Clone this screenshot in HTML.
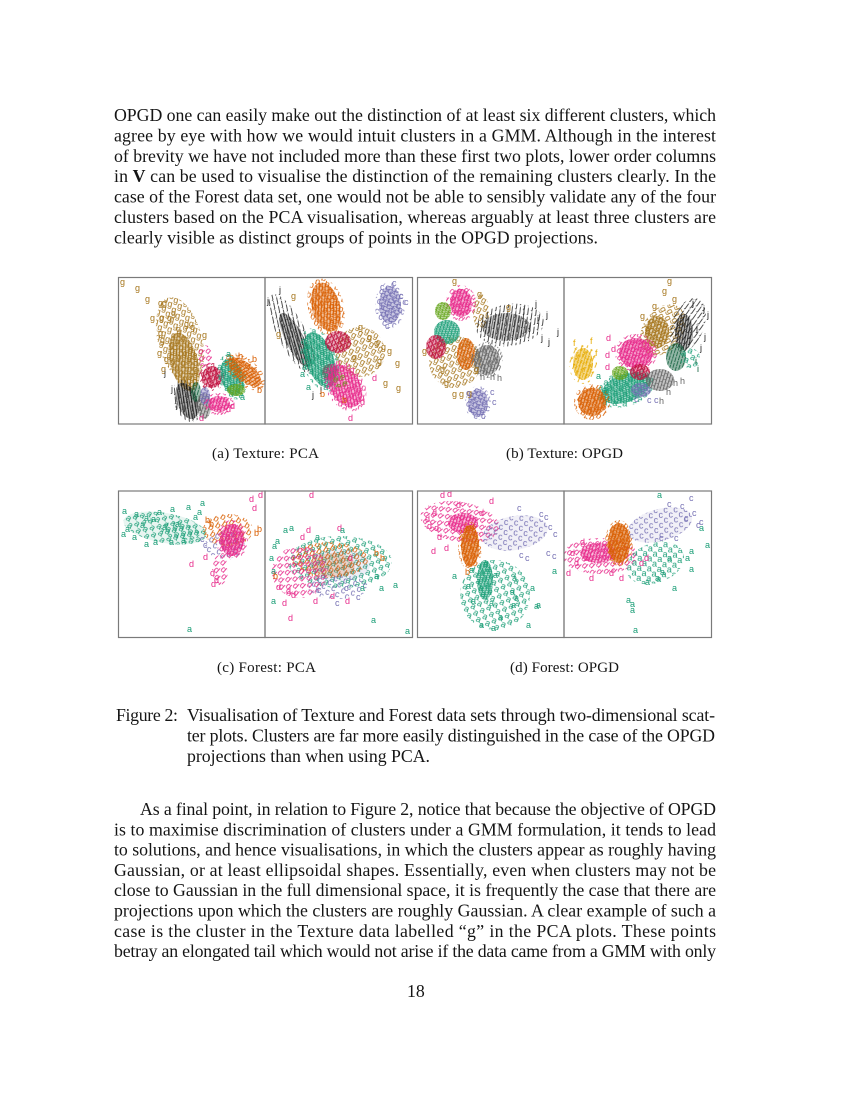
<!DOCTYPE html>
<html>
<head>
<meta charset="utf-8">
<style>
html,body{margin:0;padding:0;background:#fff;}
svg{display:block;}
.tx{font-family:"Liberation Serif",serif;font-size:17.8px;fill:#151515;}
.sub{font-family:"Liberation Serif",serif;font-size:15px;fill:#151515;}
.sc text,pattern text{font-family:"Liberation Sans",sans-serif;font-size:9px;}
</style>
</head>
<body>
<svg width="850" height="1100" viewBox="0 0 850 1100" xmlns="http://www.w3.org/2000/svg">
<defs>
<!-- dense patterns -->
<pattern id="Da" width="6" height="6" patternUnits="userSpaceOnUse" patternTransform="rotate(17)"><g fill="#1B9E77"><text x="0" y="5">a</text><text x="3" y="8">a</text><text x="3" y="2">a</text><text x="-3" y="8">a</text><text x="-3" y="2">a</text></g></pattern>
<pattern id="Db" width="6" height="6" patternUnits="userSpaceOnUse" patternTransform="rotate(17)"><g fill="#D95F02"><text x="0" y="5">b</text><text x="3" y="8">b</text><text x="3" y="2">b</text><text x="-3" y="8">b</text><text x="-3" y="2">b</text></g></pattern>
<pattern id="Dc" width="6" height="6" patternUnits="userSpaceOnUse" patternTransform="rotate(17)"><g fill="#7570B3"><text x="0" y="5">c</text><text x="3" y="8">c</text><text x="3" y="2">c</text><text x="-3" y="8">c</text><text x="-3" y="2">c</text></g></pattern>
<pattern id="Dd" width="6" height="6" patternUnits="userSpaceOnUse" patternTransform="rotate(17)"><g fill="#E7298A"><text x="0" y="5">d</text><text x="3" y="8">d</text><text x="3" y="2">d</text><text x="-3" y="8">d</text><text x="-3" y="2">d</text></g></pattern>
<pattern id="De" width="6" height="6" patternUnits="userSpaceOnUse" patternTransform="rotate(17)"><g fill="#66A61E"><text x="0" y="5">e</text><text x="3" y="8">e</text><text x="3" y="2">e</text><text x="-3" y="8">e</text><text x="-3" y="2">e</text></g></pattern>
<pattern id="Df" width="6" height="6" patternUnits="userSpaceOnUse" patternTransform="rotate(17)"><g fill="#E6AB02"><text x="0" y="5">f</text><text x="3" y="8">f</text><text x="3" y="2">f</text><text x="-3" y="8">f</text><text x="-3" y="2">f</text></g></pattern>
<pattern id="Dg" width="6" height="6" patternUnits="userSpaceOnUse" patternTransform="rotate(17)"><g fill="#A6761D"><text x="0" y="5">g</text><text x="3" y="8">g</text><text x="3" y="2">g</text><text x="-3" y="8">g</text><text x="-3" y="2">g</text></g></pattern>
<pattern id="Dh" width="6" height="6" patternUnits="userSpaceOnUse" patternTransform="rotate(17)"><g fill="#666666"><text x="0" y="5">h</text><text x="3" y="8">h</text><text x="3" y="2">h</text><text x="-3" y="8">h</text><text x="-3" y="2">h</text></g></pattern>
<pattern id="Di" width="6" height="6" patternUnits="userSpaceOnUse" patternTransform="rotate(17)"><g fill="#0E5E3A"><text x="0" y="5">i</text><text x="3" y="8">i</text><text x="3" y="2">i</text><text x="-3" y="8">i</text><text x="-3" y="2">i</text></g></pattern>
<pattern id="Dj" width="5" height="6" patternUnits="userSpaceOnUse" patternTransform="rotate(10)"><g fill="#1a1a1a"><text x="0" y="5">j</text><text x="2.5" y="8">j</text><text x="2.5" y="2">j</text><text x="-2.5" y="8">j</text><text x="-2.5" y="2">j</text></g></pattern>
<pattern id="Dk" width="6" height="6" patternUnits="userSpaceOnUse" patternTransform="rotate(17)"><g fill="#C0103E"><text x="0" y="5">k</text><text x="3" y="8">k</text><text x="3" y="2">k</text><text x="-3" y="8">k</text><text x="-3" y="2">k</text></g></pattern>
<!-- sparse patterns -->
<pattern id="Sa" width="10" height="10" patternUnits="userSpaceOnUse" patternTransform="rotate(23)"><g fill="#1B9E77"><text x="0" y="6">a</text><text x="5" y="11">a</text><text x="5" y="1">a</text><text x="-5" y="11">a</text><text x="-5" y="1">a</text></g></pattern>
<pattern id="Sb" width="10" height="10" patternUnits="userSpaceOnUse" patternTransform="rotate(31)"><g fill="#D95F02"><text x="0" y="6">b</text><text x="5" y="11">b</text><text x="5" y="1">b</text><text x="-5" y="11">b</text><text x="-5" y="1">b</text></g></pattern>
<pattern id="Sc" width="10" height="10" patternUnits="userSpaceOnUse" patternTransform="rotate(13)"><g fill="#7570B3"><text x="0" y="6">c</text><text x="5" y="11">c</text><text x="5" y="1">c</text><text x="-5" y="11">c</text><text x="-5" y="1">c</text></g></pattern>
<pattern id="Sd" width="10" height="10" patternUnits="userSpaceOnUse" patternTransform="rotate(41)"><g fill="#E7298A"><text x="0" y="6">d</text><text x="5" y="11">d</text><text x="5" y="1">d</text><text x="-5" y="11">d</text><text x="-5" y="1">d</text></g></pattern>
<pattern id="Se" width="10" height="10" patternUnits="userSpaceOnUse" patternTransform="rotate(23)"><g fill="#66A61E"><text x="0" y="6">e</text><text x="5" y="11">e</text><text x="5" y="1">e</text><text x="-5" y="11">e</text><text x="-5" y="1">e</text></g></pattern>
<pattern id="Sf" width="10" height="10" patternUnits="userSpaceOnUse" patternTransform="rotate(23)"><g fill="#E6AB02"><text x="0" y="6">f</text><text x="5" y="11">f</text><text x="5" y="1">f</text><text x="-5" y="11">f</text><text x="-5" y="1">f</text></g></pattern>
<pattern id="Sg" width="10" height="10" patternUnits="userSpaceOnUse" patternTransform="rotate(27)"><g fill="#A6761D"><text x="0" y="6">g</text><text x="5" y="11">g</text><text x="5" y="1">g</text><text x="-5" y="11">g</text><text x="-5" y="1">g</text></g></pattern>
<pattern id="Sj" width="8" height="9" patternUnits="userSpaceOnUse" patternTransform="rotate(15)"><g fill="#1a1a1a"><text x="0" y="6">j</text><text x="4" y="10.5">j</text><text x="4" y="1.5">j</text><text x="-4" y="10.5">j</text><text x="-4" y="1.5">j</text></g></pattern>
<pattern id="Sh" width="10" height="10" patternUnits="userSpaceOnUse" patternTransform="rotate(23)"><g fill="#666666"><text x="0" y="6">h</text><text x="5" y="11">h</text><text x="5" y="1">h</text><text x="-5" y="11">h</text><text x="-5" y="1">h</text></g></pattern>
<pattern id="Sk" width="10" height="10" patternUnits="userSpaceOnUse" patternTransform="rotate(33)"><g fill="#C0103E"><text x="0" y="6">k</text><text x="5" y="11">k</text><text x="5" y="1">k</text><text x="-5" y="11">k</text><text x="-5" y="1">k</text></g></pattern>
<pattern id="Si" width="10" height="10" patternUnits="userSpaceOnUse" patternTransform="rotate(33)"><g fill="#0E5E3A"><text x="0" y="6">i</text><text x="5" y="11">i</text><text x="5" y="1">i</text><text x="-5" y="11">i</text><text x="-5" y="1">i</text></g></pattern>

<clipPath id="cA1"><rect x="118" y="277" width="147" height="147"/></clipPath>
<clipPath id="cA2"><rect x="265" y="277" width="148" height="147"/></clipPath>
<clipPath id="cB1"><rect x="417" y="277" width="147" height="147"/></clipPath>
<clipPath id="cB2"><rect x="564" y="277" width="148" height="147"/></clipPath>
<clipPath id="cC1"><rect x="118" y="491" width="147" height="147"/></clipPath>
<clipPath id="cC2"><rect x="265" y="491" width="148" height="147"/></clipPath>
<clipPath id="cD1"><rect x="417" y="491" width="147" height="147"/></clipPath>
<clipPath id="cD2"><rect x="564" y="491" width="148" height="147"/></clipPath>
</defs>

<!-- ============ Paragraph 1 ============ -->
<g class="tx">
<text x="114" y="121" textLength="602" lengthAdjust="spacing">OPGD one can easily make out the distinction of at least six different clusters, which</text>
<text x="114" y="141.4" textLength="602" lengthAdjust="spacing">agree by eye with how we would intuit clusters in a GMM. Although in the interest</text>
<text x="114" y="161.8" textLength="602" lengthAdjust="spacing">of brevity we have not included more than these first two plots, lower order columns</text>
<text x="114" y="182.2" textLength="602" lengthAdjust="spacing">in <tspan font-weight="bold">V</tspan> can be used to visualise the distinction of the remaining clusters clearly. In the</text>
<text x="114" y="202.6" textLength="602" lengthAdjust="spacing">case of the Forest data set, one would not be able to sensibly validate any of the four</text>
<text x="114" y="223" textLength="602" lengthAdjust="spacing">clusters based on the PCA visualisation, whereas arguably at least three clusters are</text>
<text x="114" y="243.4" textLength="484" lengthAdjust="spacing">clearly visible as distinct groups of points in the OPGD projections.</text>
</g>

<!-- ============ Panel A1: Texture PCA (left) ============ -->
<g class="sc" clip-path="url(#cA1)">
<ellipse cx="180" cy="340" rx="22" ry="44" transform="rotate(-15 180 340)" fill="url(#Sg)"/>
<ellipse cx="184" cy="362" rx="14" ry="30" transform="rotate(-15 184 362)" fill="#A6761D" fill-opacity=".3"/>
<ellipse cx="184" cy="362" rx="14" ry="30" transform="rotate(-15 184 362)" fill="url(#Dg)"/>
<text fill="#A6761D" x="120 135 145 158 162 150 159 167 171 184 202 158 160 157 161 164 176 190" y="285 291 302 306 306 321 321 321 316 327 338 336 343 356 372 362 332 330">gggggggggggggggggg</text>
<ellipse cx="187" cy="401" rx="13" ry="22" transform="rotate(-20 187 401)" fill="url(#Sj)"/>
<ellipse cx="187" cy="401" rx="10" ry="19" transform="rotate(-20 187 401)" fill="#1a1a1a" fill-opacity=".35"/>
<ellipse cx="187" cy="401" rx="10" ry="19" transform="rotate(-20 187 401)" fill="url(#Dj)"/>
<text fill="#333" x="164 171 176" y="376 392 408">jjj</text>
<ellipse cx="196" cy="392" rx="5" ry="10" fill="#0E5E3A" fill-opacity=".4"/>
<ellipse cx="196" cy="392" rx="5" ry="10" fill="url(#Di)"/>
<ellipse cx="204" cy="406" rx="7" ry="13" fill="#666" fill-opacity=".4"/>
<ellipse cx="204" cy="406" rx="7" ry="13" fill="url(#Dh)"/>
<ellipse cx="205" cy="396" rx="5" ry="9" fill="#7570B3" fill-opacity=".4"/>
<ellipse cx="205" cy="396" rx="5" ry="9" fill="url(#Dc)"/>
<ellipse cx="205" cy="357" rx="7" ry="12" fill="url(#Sd)"/>
<ellipse cx="212" cy="377" rx="13" ry="14" fill="url(#Sk)"/>
<ellipse cx="212" cy="377" rx="10" ry="11" fill="#C0103E" fill-opacity=".35"/>
<ellipse cx="212" cy="377" rx="10" ry="11" fill="url(#Dk)"/>
<ellipse cx="219" cy="404" rx="15" ry="11" fill="url(#Sd)"/>
<ellipse cx="219" cy="404" rx="11" ry="8" fill="#E7298A" fill-opacity=".35"/>
<ellipse cx="219" cy="404" rx="11" ry="8" fill="url(#Dd)"/>
<ellipse cx="232" cy="377" rx="14" ry="23" transform="rotate(-15 232 377)" fill="url(#Sa)"/>
<ellipse cx="232" cy="377" rx="11" ry="19" transform="rotate(-15 232 377)" fill="#1B9E77" fill-opacity=".35"/>
<ellipse cx="232" cy="377" rx="11" ry="19" transform="rotate(-15 232 377)" fill="url(#Da)"/>
<ellipse cx="236" cy="390" rx="9" ry="6" fill="#66A61E" fill-opacity=".4"/>
<ellipse cx="236" cy="390" rx="9" ry="6" fill="url(#De)"/>
<ellipse cx="245" cy="372" rx="24" ry="13" transform="rotate(40 245 372)" fill="url(#Sb)"/>
<ellipse cx="245" cy="372" rx="20" ry="9" transform="rotate(40 245 372)" fill="#D95F02" fill-opacity=".35"/>
<ellipse cx="245" cy="372" rx="20" ry="9" transform="rotate(40 245 372)" fill="url(#Db)"/>
<text fill="#D95F02" x="257 238 252 229" y="393 359 362 360">bbbb</text>
<text fill="#E7298A" x="199 226 230" y="421 412 409">ddd</text>
<text fill="#1B9E77" x="226 240" y="357 400">aa</text>
</g>

<!-- ============ Panel A2: Texture PCA (right) ============ -->
<g class="sc" clip-path="url(#cA2)">
<ellipse cx="292" cy="334" rx="14" ry="44" transform="rotate(-27 292 334)" fill="url(#Sj)"/>
<ellipse cx="295" cy="340" rx="9" ry="30" transform="rotate(-27 295 340)" fill="#1a1a1a" fill-opacity=".3"/>
<ellipse cx="295" cy="340" rx="9" ry="30" transform="rotate(-27 295 340)" fill="url(#Dj)"/>
<ellipse cx="360" cy="352" rx="25" ry="25" fill="url(#Sg)"/>
<ellipse cx="326" cy="307" rx="18" ry="29" transform="rotate(-15 326 307)" fill="url(#Sb)"/>
<ellipse cx="326" cy="307" rx="14" ry="25" transform="rotate(-15 326 307)" fill="#D95F02" fill-opacity=".4"/>
<ellipse cx="326" cy="307" rx="14" ry="25" transform="rotate(-15 326 307)" fill="url(#Db)"/>
<ellipse cx="390" cy="305" rx="15" ry="23" fill="url(#Sc)"/>
<ellipse cx="390" cy="305" rx="11" ry="19" fill="#7570B3" fill-opacity=".4"/>
<ellipse cx="390" cy="305" rx="11" ry="19" fill="url(#Dc)"/>
<text fill="#7570B3" x="399 404 398 385 380 392" y="299 305 313 329 290 286">cccccc</text>
<ellipse cx="320" cy="360" rx="18" ry="33" transform="rotate(-20 320 360)" fill="url(#Sa)"/>
<ellipse cx="320" cy="360" rx="14" ry="29" transform="rotate(-20 320 360)" fill="#1B9E77" fill-opacity=".35"/>
<ellipse cx="320" cy="360" rx="14" ry="29" transform="rotate(-20 320 360)" fill="url(#Da)"/>
<ellipse cx="338" cy="342" rx="13" ry="11" fill="#C0103E" fill-opacity=".35"/>
<ellipse cx="338" cy="342" rx="13" ry="11" fill="url(#Dk)"/>
<ellipse cx="330" cy="372" rx="8" ry="8" fill="#666" fill-opacity=".4"/>
<ellipse cx="330" cy="372" rx="8" ry="8" fill="url(#Dh)"/>
<ellipse cx="345" cy="386" rx="19" ry="27" transform="rotate(-30 345 386)" fill="url(#Sd)"/>
<ellipse cx="345" cy="386" rx="15" ry="23" transform="rotate(-30 345 386)" fill="#E7298A" fill-opacity=".35"/>
<ellipse cx="345" cy="386" rx="15" ry="23" transform="rotate(-30 345 386)" fill="url(#Dd)"/>
<ellipse cx="340" cy="380" rx="8" ry="8" fill="url(#Se)"/>
<text fill="#A6761D" x="276 291 395 383 396 374 381 387 367 358 352 377" y="337 299 366 386 391 346 350 354 340 330 360 364">gggggggggggg</text>
<text fill="#1a1a1a" x="279 267 312 320" y="293 304 398 392">jjjj</text>
<text fill="#E7298A" x="372 348 360" y="381 421 405">ddd</text>
<text fill="#1B9E77" x="300 306 302" y="377 390 370">aaa</text>
<text fill="#D95F02" x="320 342" y="397 403">bb</text>
</g>

<!-- ============ Panel B1: Texture OPGD (left) ============ -->
<g class="sc" clip-path="url(#cB1)">
<ellipse cx="455" cy="362" rx="26" ry="26" fill="url(#Sg)"/>
<ellipse cx="481" cy="312" rx="8" ry="18" fill="url(#Sg)"/>
<ellipse cx="510" cy="325" rx="34" ry="21" transform="rotate(-8 510 325)" fill="url(#Sj)"/>
<ellipse cx="506" cy="327" rx="24" ry="14" fill="#1a1a1a" fill-opacity=".18"/>
<ellipse cx="506" cy="327" rx="24" ry="14" fill="url(#Dj)" fill-opacity=".8"/>
<ellipse cx="461" cy="303" rx="15" ry="18" fill="url(#Sd)"/>
<ellipse cx="461" cy="303" rx="11" ry="14" fill="#E7298A" fill-opacity=".4"/>
<ellipse cx="461" cy="303" rx="11" ry="14" fill="url(#Dd)"/>
<ellipse cx="443" cy="311" rx="8" ry="9" fill="#66A61E" fill-opacity=".4"/>
<ellipse cx="443" cy="311" rx="8" ry="9" fill="url(#De)"/>
<ellipse cx="447" cy="332" rx="13" ry="12" fill="#1B9E77" fill-opacity=".4"/>
<ellipse cx="447" cy="332" rx="13" ry="12" fill="url(#Da)"/>
<ellipse cx="436" cy="347" rx="10" ry="12" fill="#C0103E" fill-opacity=".4"/>
<ellipse cx="436" cy="347" rx="10" ry="12" fill="url(#Dk)"/>
<ellipse cx="466" cy="354" rx="9" ry="16" fill="#D95F02" fill-opacity=".4"/>
<ellipse cx="466" cy="354" rx="9" ry="16" fill="url(#Db)"/>
<ellipse cx="487" cy="360" rx="16" ry="18" fill="url(#Sh)"/>
<ellipse cx="487" cy="360" rx="13" ry="15" fill="#666" fill-opacity=".4"/>
<ellipse cx="487" cy="360" rx="13" ry="15" fill="url(#Dh)"/>
<ellipse cx="478" cy="403" rx="13" ry="17" fill="url(#Sc)"/>
<ellipse cx="478" cy="403" rx="10" ry="14" fill="#7570B3" fill-opacity=".4"/>
<ellipse cx="478" cy="403" rx="10" ry="14" fill="url(#Dc)"/>
<text fill="#A6761D" x="452 477 506 422 452 459 467 444 440 474" y="284 297 310 354 397 397 396 386 372 372">gggggggggg</text>
<text fill="#1a1a1a" x="523 535 541 557 537 546 548 529" y="313 307 341 335 322 318 345 330">jjjjjjjj</text>
<text fill="#7570B3" x="468 490 481 492 466" y="412 395 419 405 396">ccccc</text>
<text fill="#666" x="490 497 480" y="380 381 380">hhh</text>
</g>

<!-- ============ Panel B2: Texture OPGD (right) ============ -->
<g class="sc" clip-path="url(#cB2)">
<ellipse cx="663" cy="330" rx="20" ry="28" transform="rotate(35 663 330)" fill="url(#Sg)"/>
<ellipse cx="657" cy="332" rx="12" ry="16" fill="#A6761D" fill-opacity=".3"/>
<ellipse cx="657" cy="332" rx="12" ry="16" fill="url(#Dg)"/>
<ellipse cx="688" cy="325" rx="16" ry="28" transform="rotate(20 688 325)" fill="url(#Sj)"/>
<ellipse cx="684" cy="332" rx="9" ry="18" fill="#1a1a1a" fill-opacity=".3"/>
<ellipse cx="684" cy="332" rx="9" ry="18" fill="url(#Dj)"/>
<ellipse cx="583" cy="364" rx="14" ry="20" fill="url(#Sf)"/>
<ellipse cx="583" cy="364" rx="10" ry="16" fill="#E6AB02" fill-opacity=".45"/>
<ellipse cx="583" cy="364" rx="10" ry="16" fill="url(#Df)"/>
<ellipse cx="626" cy="388" rx="30" ry="18" transform="rotate(-20 626 388)" fill="url(#Sa)"/>
<ellipse cx="626" cy="388" rx="26" ry="14" transform="rotate(-20 626 388)" fill="#1B9E77" fill-opacity=".4"/>
<ellipse cx="626" cy="388" rx="26" ry="14" transform="rotate(-20 626 388)" fill="url(#Da)"/>
<ellipse cx="592" cy="402" rx="18" ry="18" fill="url(#Sb)"/>
<ellipse cx="592" cy="402" rx="14" ry="14" fill="#D95F02" fill-opacity=".5"/>
<ellipse cx="592" cy="402" rx="14" ry="14" fill="url(#Db)"/>
<ellipse cx="636" cy="353" rx="21" ry="19" fill="url(#Sd)"/>
<ellipse cx="636" cy="353" rx="17" ry="15" fill="#E7298A" fill-opacity=".45"/>
<ellipse cx="636" cy="353" rx="17" ry="15" fill="url(#Dd)"/>
<ellipse cx="620" cy="373" rx="8" ry="7" fill="#66A61E" fill-opacity=".4"/>
<ellipse cx="620" cy="373" rx="8" ry="7" fill="url(#De)"/>
<ellipse cx="640" cy="372" rx="10" ry="8" fill="#C0103E" fill-opacity=".35"/>
<ellipse cx="640" cy="372" rx="10" ry="8" fill="url(#Dk)"/>
<ellipse cx="641" cy="390" rx="10" ry="7" fill="#7570B3" fill-opacity=".4"/>
<ellipse cx="641" cy="390" rx="10" ry="7" fill="url(#Dc)"/>
<ellipse cx="660" cy="380" rx="14" ry="11" fill="#666" fill-opacity=".4"/>
<ellipse cx="660" cy="380" rx="14" ry="11" fill="url(#Dh)"/>
<ellipse cx="676" cy="357" rx="10" ry="14" fill="#0E5E3A" fill-opacity=".45"/>
<ellipse cx="676" cy="357" rx="10" ry="14" fill="url(#Di)"/>
<ellipse cx="690" cy="358" rx="10" ry="10" fill="url(#Sa)"/>
<text fill="#A6761D" x="667 662 672 640 652 645" y="284 294 302 319 309 332">gggggg</text>
<text fill="#1a1a1a" x="703 707 696 700 692 704" y="312 318 331 351 306 340">jjjjjj</text>
<text fill="#E7298A" x="606 605 605 611" y="341 358 370 352">dddd</text>
<text fill="#1B9E77" x="596 603" y="379 393">aa</text>
<text fill="#666" x="659 673 680 666" y="404 386 384 395">hhhh</text>
<text fill="#7570B3" x="647 654 634" y="403 403 402">ccc</text>
<text fill="#0E5E3A" x="695 697" y="364 372">ii</text>
<text fill="#E6AB02" x="573 595 590" y="346 356 344">fff</text>
</g>

<!-- frames top row -->
<g fill="none" stroke="#7a7a7a" stroke-width="1.2">
<rect x="118.5" y="277.5" width="146.5" height="146.5"/>
<rect x="265" y="277.5" width="147.5" height="146.5"/>
<rect x="417.5" y="277.5" width="146.5" height="146.5"/>
<rect x="564" y="277.5" width="147.5" height="146.5"/>
</g>

<g class="sub">
<text x="212" y="458" textLength="107" lengthAdjust="spacing">(a) Texture: PCA</text>
<text x="506" y="458" textLength="117" lengthAdjust="spacing">(b) Texture: OPGD</text>
<text x="217" y="672" textLength="99" lengthAdjust="spacing">(c) Forest: PCA</text>
<text x="510" y="672" textLength="109" lengthAdjust="spacing">(d) Forest: OPGD</text>
</g>

<!-- ============ Panel C1: Forest PCA (left) ============ -->
<g class="sc" clip-path="url(#cC1)">
<ellipse cx="165" cy="528" rx="42" ry="15" transform="rotate(10 165 528)" fill="#1B9E77" fill-opacity=".1"/>
<ellipse cx="165" cy="528" rx="42" ry="15" transform="rotate(10 165 528)" fill="url(#Sa)"/>
<ellipse cx="180" cy="531" rx="20" ry="8" transform="rotate(10 180 531)" fill="url(#Sa)"/>
<ellipse cx="228" cy="530" rx="25" ry="16" fill="url(#Sb)"/>
<ellipse cx="225" cy="545" rx="20" ry="14" fill="url(#Sc)"/>
<ellipse cx="232" cy="540" rx="16" ry="20" fill="url(#Sd)"/>
<ellipse cx="232" cy="540" rx="12" ry="16" fill="#E7298A" fill-opacity=".4"/>
<ellipse cx="232" cy="540" rx="12" ry="16" fill="url(#Dd)"/>
<ellipse cx="220" cy="570" rx="8" ry="15" fill="url(#Sd)"/>
<text fill="#1B9E77" x="122 125 121 132 134 144 151 157 170 186 197 200 187 144 153 169 181 140 162 175 193" y="514 532 537 540 517 521 522 515 512 510 515 506 632 547 545 545 543 528 530 527 520">aaaaaaaaaaaaaaaaaaaaa</text>
<text fill="#E7298A" x="258 249 252 189 211 214 210 203" y="498 502 511 567 587 583 576 560">dddddddd</text>
<text fill="#D95F02" x="257 254 205 209" y="532 536 523 527">bbbb</text>
<text fill="#7570B3" x="200 203" y="542 548">cc</text>
</g>

<!-- ============ Panel C2: Forest PCA (right) ============ -->
<g class="sc" clip-path="url(#cC2)">
<ellipse cx="340" cy="562" rx="52" ry="26" fill="url(#Sa)"/>
<ellipse cx="330" cy="560" rx="38" ry="18" fill="url(#Sb)"/>
<ellipse cx="333" cy="565" rx="22" ry="12" fill="#D95F02" fill-opacity=".2"/>
<ellipse cx="300" cy="572" rx="28" ry="26" fill="url(#Sd)"/>
<ellipse cx="338" cy="587" rx="30" ry="12" fill="url(#Sc)"/>
<ellipse cx="340" cy="565" rx="30" ry="16" fill="#7570B3" fill-opacity=".12"/>
<text fill="#E7298A" x="309 306 286 282 291 288 313 330 345 348 337 300 276" y="498 533 594 606 598 621 604 599 604 561 531 540 590">ddddddddddddd</text>
<text fill="#1B9E77" x="289 275 272 269 271 271 283 340 374 379 393 371 405 360 315" y="531 544 549 561 574 604 533 533 579 591 588 623 634 591 540">aaaaaaaaaaaaaaa</text>
<text fill="#7570B3" x="344 335 317 356" y="591 606 593 600">cccc</text>
<text fill="#D95F02" x="374 380 273" y="556 561 579">bbb</text>
</g>

<!-- ============ Panel D1: Forest OPGD (left) ============ -->
<g class="sc" clip-path="url(#cD1)">
<ellipse cx="460" cy="522" rx="40" ry="20" transform="rotate(10 460 522)" fill="url(#Sd)"/>
<ellipse cx="463" cy="523" rx="15" ry="10" fill="#E7298A" fill-opacity=".3"/>
<ellipse cx="463" cy="523" rx="15" ry="10" fill="url(#Dd)"/>
<ellipse cx="515" cy="533" rx="33" ry="17" transform="rotate(-10 515 533)" fill="#7570B3" fill-opacity=".1"/>
<ellipse cx="515" cy="533" rx="33" ry="17" transform="rotate(-10 515 533)" fill="url(#Sc)"/>
<ellipse cx="495" cy="595" rx="35" ry="35" fill="url(#Sa)"/>
<ellipse cx="485" cy="580" rx="8" ry="20" fill="#1B9E77" fill-opacity=".3"/>
<ellipse cx="485" cy="580" rx="8" ry="20" fill="url(#Da)"/>
<ellipse cx="470" cy="546" rx="12" ry="24" fill="url(#Sb)"/>
<ellipse cx="470" cy="546" rx="9" ry="21" fill="#D95F02" fill-opacity=".55"/>
<ellipse cx="470" cy="546" rx="9" ry="21" fill="url(#Db)"/>
<text fill="#E7298A" x="440 447 489 432 427 434 431 444 479 425 437 456" y="498 497 504 516 529 531 554 551 516 522 540 508">dddddddddddd</text>
<text fill="#7570B3" x="517 544 548 553 546 552 519 525 539" y="511 520 530 537 556 559 558 561 517">ccccccccc</text>
<text fill="#1B9E77" x="552 452 466 471 489 479 491 526 534 530 510 511 536 483 493 512 514 498 469" y="574 579 589 604 606 628 631 628 609 591 595 608 608 567 578 581 601 620 573">aaaaaaaaaaaaaaaaaaa</text>
<text fill="#D95F02" x="465" y="575">b</text>
</g>

<!-- ============ Panel D2: Forest OPGD (right) ============ -->
<g class="sc" clip-path="url(#cD2)">
<ellipse cx="600" cy="556" rx="38" ry="18" fill="url(#Sd)"/>
<ellipse cx="598" cy="553" rx="18" ry="10" fill="#E7298A" fill-opacity=".3"/>
<ellipse cx="598" cy="553" rx="18" ry="10" fill="url(#Dd)"/>
<ellipse cx="660" cy="525" rx="33" ry="16" transform="rotate(-15 660 525)" fill="#7570B3" fill-opacity=".1"/>
<ellipse cx="660" cy="525" rx="33" ry="16" transform="rotate(-15 660 525)" fill="url(#Sc)"/>
<ellipse cx="655" cy="563" rx="30" ry="20" transform="rotate(-20 655 563)" fill="url(#Sa)"/>
<ellipse cx="619" cy="543" rx="14" ry="23" fill="url(#Sb)"/>
<ellipse cx="619" cy="543" rx="11" ry="20" fill="#D95F02" fill-opacity=".6"/>
<ellipse cx="619" cy="543" rx="11" ry="20" fill="url(#Db)"/>
<text fill="#1B9E77" x="657 705 630 626 633 672 685 689 667 655 689 630 699 645 660" y="498 548 607 603 633 591 561 554 561 581 572 613 531 585 575">aaaaaaaaaaaaaaa</text>
<text fill="#7570B3" x="689 692 684 699 696 659 674 680 667" y="501 516 521 525 528 541 541 509 507">ccccccccc</text>
<text fill="#E7298A" x="570 566 574 589 584 609 619 639 644 580" y="556 576 566 581 561 576 581 566 561 545">dddddddddd</text>
</g>

<!-- frames bottom row -->
<g fill="none" stroke="#7a7a7a" stroke-width="1.2">
<rect x="118.5" y="491" width="146.5" height="146.5"/>
<rect x="265" y="491" width="147.5" height="146.5"/>
<rect x="417.5" y="491" width="146.5" height="146.5"/>
<rect x="564" y="491" width="147.5" height="146.5"/>
</g>

<!-- ============ Figure caption ============ -->
<g class="tx">
<text x="116" y="721" textLength="62" lengthAdjust="spacing">Figure 2:</text>
<text x="187" y="721" textLength="528" lengthAdjust="spacing">Visualisation of Texture and Forest data sets through two-dimensional scat-</text>
<text x="187" y="741.4" textLength="528" lengthAdjust="spacing">ter plots. Clusters are far more easily distinguished in the case of the OPGD</text>
<text x="187" y="761.8" textLength="243" lengthAdjust="spacing">projections than when using PCA.</text>
</g>

<!-- ============ Paragraph 2 ============ -->
<g class="tx">
<text x="140" y="815" textLength="576" lengthAdjust="spacing">As a final point, in relation to Figure 2, notice that because the objective of OPGD</text>
<text x="114" y="835.3" textLength="602" lengthAdjust="spacing">is to maximise discrimination of clusters under a GMM formulation, it tends to lead</text>
<text x="114" y="855.6" textLength="602" lengthAdjust="spacing">to solutions, and hence visualisations, in which the clusters appear as roughly having</text>
<text x="114" y="875.9" textLength="602" lengthAdjust="spacing">Gaussian, or at least ellipsoidal shapes. Essentially, even when clusters may not be</text>
<text x="114" y="896.2" textLength="602" lengthAdjust="spacing">close to Gaussian in the full dimensional space, it is frequently the case that there are</text>
<text x="114" y="916.5" textLength="602" lengthAdjust="spacing">projections upon which the clusters are roughly Gaussian. A clear example of such a</text>
<text x="114" y="936.8" textLength="602" lengthAdjust="spacing">case is the cluster in the Texture data labelled “g” in the PCA plots. These points</text>
<text x="114" y="957.1" textLength="602" lengthAdjust="spacing">betray an elongated tail which would not arise if the data came from a GMM with only</text>
</g>

<text class="tx" x="407" y="997">18</text>
</svg>
</body>
</html>
